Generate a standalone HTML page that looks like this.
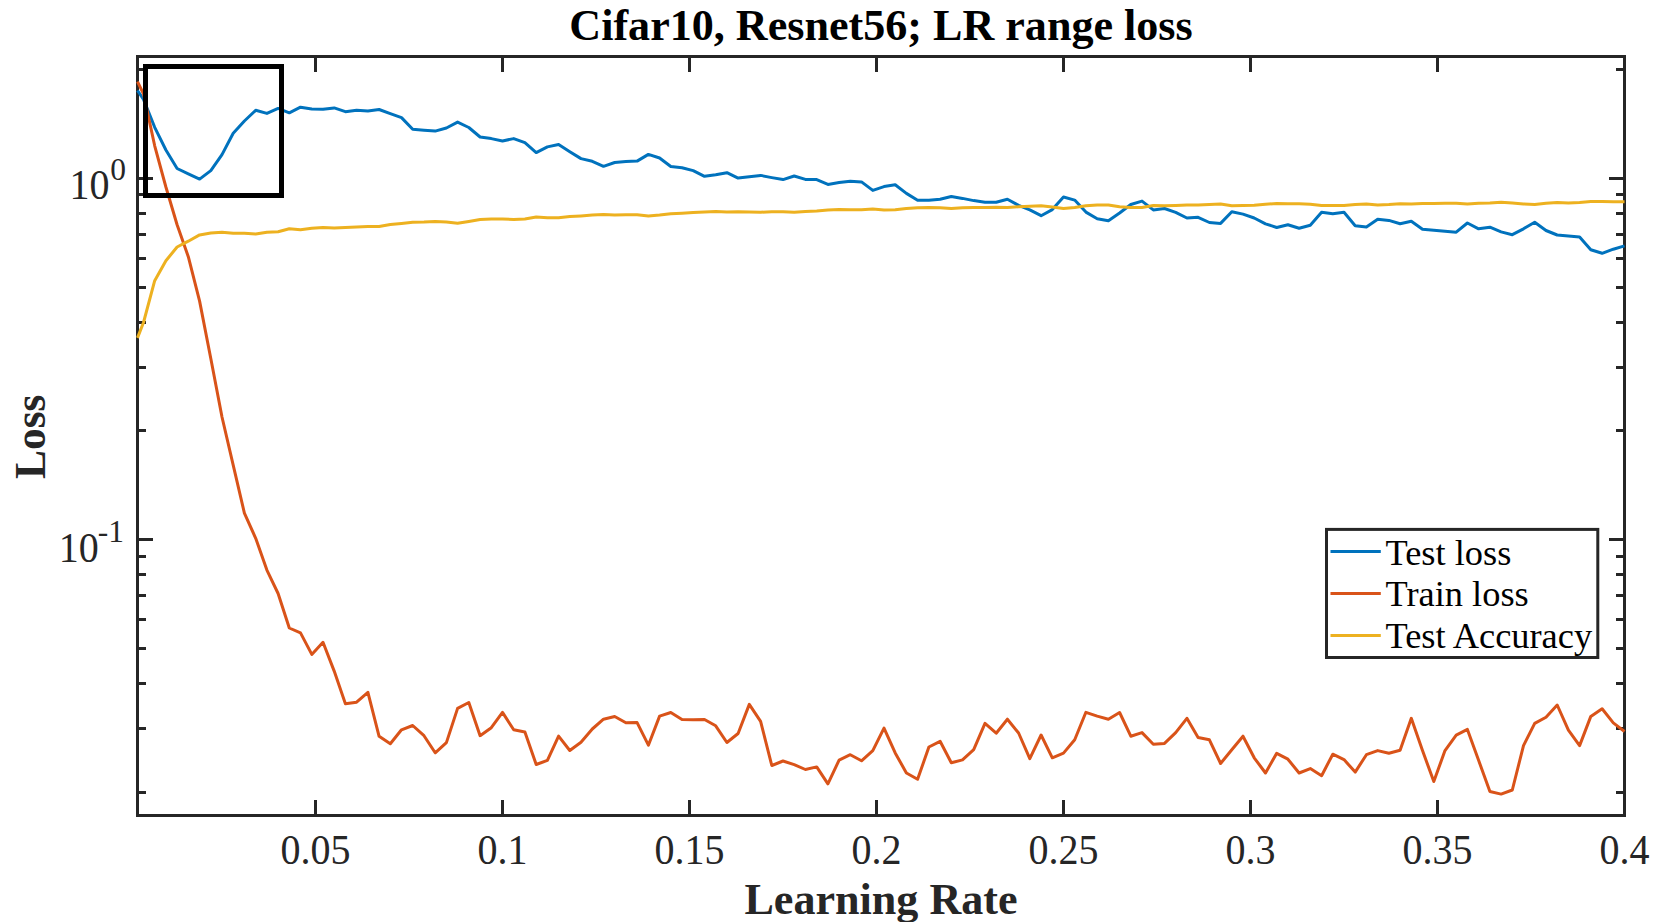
<!DOCTYPE html>
<html><head><meta charset="utf-8"><title>Cifar10, Resnet56; LR range loss</title>
<style>
html,body{margin:0;padding:0;background:#fff;}
body{width:1670px;height:922px;overflow:hidden;}
svg{display:block;}
text{font-family:"Liberation Serif","Times New Roman",Times,serif;}
.tk{font-size:40px;fill:#262626;}
.b{font-weight:bold;font-size:44.1px;}
.lg{font-size:36.4px;fill:#000;}
</style></head><body>
<svg width="1670" height="922" viewBox="0 0 1670 922">
<rect x="0" y="0" width="1670" height="922" fill="#fff"/>
<g stroke="#262626" stroke-width="3" fill="none">
<line x1="315.5" y1="815.5" x2="315.5" y2="800.0"/>
<line x1="315.5" y1="56.5" x2="315.5" y2="72.0"/>
<line x1="502.5" y1="815.5" x2="502.5" y2="800.0"/>
<line x1="502.5" y1="56.5" x2="502.5" y2="72.0"/>
<line x1="689.5" y1="815.5" x2="689.5" y2="800.0"/>
<line x1="689.5" y1="56.5" x2="689.5" y2="72.0"/>
<line x1="876.5" y1="815.5" x2="876.5" y2="800.0"/>
<line x1="876.5" y1="56.5" x2="876.5" y2="72.0"/>
<line x1="1063.5" y1="815.5" x2="1063.5" y2="800.0"/>
<line x1="1063.5" y1="56.5" x2="1063.5" y2="72.0"/>
<line x1="1250.5" y1="815.5" x2="1250.5" y2="800.0"/>
<line x1="1250.5" y1="56.5" x2="1250.5" y2="72.0"/>
<line x1="1437.5" y1="815.5" x2="1437.5" y2="800.0"/>
<line x1="1437.5" y1="56.5" x2="1437.5" y2="72.0"/>
<line x1="137.5" y1="178.5" x2="153.0" y2="178.5"/>
<line x1="1624.5" y1="178.5" x2="1609.0" y2="178.5"/>
<line x1="137.5" y1="539.5" x2="153.0" y2="539.5"/>
<line x1="1624.5" y1="539.5" x2="1609.0" y2="539.5"/>
<line x1="137.5" y1="69.5" x2="146.0" y2="69.5"/>
<line x1="1624.5" y1="69.5" x2="1616.0" y2="69.5"/>
<line x1="137.5" y1="194.5" x2="146.0" y2="194.5"/>
<line x1="1624.5" y1="194.5" x2="1616.0" y2="194.5"/>
<line x1="137.5" y1="213.5" x2="146.0" y2="213.5"/>
<line x1="1624.5" y1="213.5" x2="1616.0" y2="213.5"/>
<line x1="137.5" y1="234.5" x2="146.0" y2="234.5"/>
<line x1="1624.5" y1="234.5" x2="1616.0" y2="234.5"/>
<line x1="137.5" y1="258.5" x2="146.0" y2="258.5"/>
<line x1="1624.5" y1="258.5" x2="1616.0" y2="258.5"/>
<line x1="137.5" y1="287.5" x2="146.0" y2="287.5"/>
<line x1="1624.5" y1="287.5" x2="1616.0" y2="287.5"/>
<line x1="137.5" y1="322.5" x2="146.0" y2="322.5"/>
<line x1="1624.5" y1="322.5" x2="1616.0" y2="322.5"/>
<line x1="137.5" y1="367.5" x2="146.0" y2="367.5"/>
<line x1="1624.5" y1="367.5" x2="1616.0" y2="367.5"/>
<line x1="137.5" y1="430.5" x2="146.0" y2="430.5"/>
<line x1="1624.5" y1="430.5" x2="1616.0" y2="430.5"/>
<line x1="137.5" y1="556.5" x2="146.0" y2="556.5"/>
<line x1="1624.5" y1="556.5" x2="1616.0" y2="556.5"/>
<line x1="137.5" y1="574.5" x2="146.0" y2="574.5"/>
<line x1="1624.5" y1="574.5" x2="1616.0" y2="574.5"/>
<line x1="137.5" y1="595.5" x2="146.0" y2="595.5"/>
<line x1="1624.5" y1="595.5" x2="1616.0" y2="595.5"/>
<line x1="137.5" y1="619.5" x2="146.0" y2="619.5"/>
<line x1="1624.5" y1="619.5" x2="1616.0" y2="619.5"/>
<line x1="137.5" y1="648.5" x2="146.0" y2="648.5"/>
<line x1="1624.5" y1="648.5" x2="1616.0" y2="648.5"/>
<line x1="137.5" y1="683.5" x2="146.0" y2="683.5"/>
<line x1="1624.5" y1="683.5" x2="1616.0" y2="683.5"/>
<line x1="137.5" y1="728.5" x2="146.0" y2="728.5"/>
<line x1="1624.5" y1="728.5" x2="1616.0" y2="728.5"/>
<line x1="137.5" y1="792.5" x2="146.0" y2="792.5"/>
<line x1="1624.5" y1="792.5" x2="1616.0" y2="792.5"/>
<rect x="137.5" y="56.5" width="1487.0" height="759.0"/>
</g>
<g fill="none" stroke-width="3" stroke-linejoin="round" stroke-linecap="butt">
<polyline stroke="#0072BD" points="137.5,90.5 143.5,99.4 154.7,127.3 165.9,150.0 177.1,168.5 188.3,173.9 199.6,179.1 210.8,170.6 222.0,154.6 233.2,133.3 244.4,121.0 255.7,110.3 266.9,113.4 278.1,108.4 289.3,112.8 300.5,107.2 311.8,109.0 323.0,109.3 334.2,107.9 345.4,111.7 356.6,110.2 367.9,111.1 379.1,109.5 390.3,113.6 401.5,117.6 412.7,129.3 424.0,130.2 435.2,131.1 446.4,128.0 457.6,122.1 468.8,127.5 480.1,137.0 491.3,138.6 502.5,141.0 513.7,138.6 524.9,142.7 536.2,152.6 547.4,146.9 558.6,144.5 569.8,151.7 581.0,158.6 592.3,161.3 603.5,166.3 614.7,162.5 625.9,161.6 637.1,161.1 648.4,154.4 659.6,158.0 670.8,166.5 682.0,167.7 693.2,170.6 704.5,176.3 715.7,174.8 726.9,172.7 738.1,178.1 749.3,176.7 760.6,175.4 771.8,177.6 783.0,179.6 794.2,176.0 805.4,179.4 816.7,179.6 827.9,184.4 839.1,182.6 850.3,181.2 861.5,181.9 872.8,190.4 884.0,186.6 895.2,184.8 906.4,193.4 917.6,200.2 928.9,200.2 940.1,199.3 951.3,196.5 962.5,198.4 973.7,200.6 985.0,202.2 996.2,202.2 1007.4,199.2 1018.6,205.4 1029.8,209.9 1041.1,215.7 1052.3,209.6 1063.5,197.0 1074.7,200.1 1085.9,212.1 1097.2,218.7 1108.4,220.7 1119.6,213.0 1130.8,204.5 1142.0,201.1 1153.3,209.9 1164.5,208.5 1175.7,212.3 1186.9,218.0 1198.1,217.3 1209.4,222.5 1220.6,223.4 1231.8,211.7 1243.0,214.1 1254.2,218.0 1265.5,223.8 1276.7,227.5 1287.9,224.8 1299.1,228.3 1310.3,225.2 1321.6,212.3 1332.8,213.7 1344.0,212.3 1355.2,225.7 1366.4,227.0 1377.7,219.3 1388.9,220.4 1400.1,223.8 1411.3,221.3 1422.5,229.3 1433.8,230.2 1445.0,231.3 1456.2,232.2 1467.4,223.0 1478.6,228.8 1489.9,227.2 1501.1,231.9 1512.3,234.7 1523.5,228.8 1534.7,222.3 1546.0,230.5 1557.2,235.0 1568.4,236.0 1579.6,236.9 1590.8,249.8 1602.1,253.3 1613.3,249.2 1624.5,245.9"/>
<polyline stroke="#D95319" points="137.5,81.7 143.5,93.9 154.7,145.8 165.9,187.0 177.1,224.8 188.3,256.7 199.6,301.1 210.8,358.5 222.0,417.0 233.2,465.2 244.4,513.1 255.7,538.3 266.9,570.1 278.1,593.5 289.3,628.0 300.5,632.9 311.8,654.4 323.0,642.3 334.2,671.1 345.4,703.8 356.6,702.2 367.9,692.3 379.1,736.3 390.3,743.8 401.5,729.8 412.7,725.5 424.0,735.7 435.2,752.8 446.4,742.6 457.6,708.4 468.8,702.5 480.1,735.7 491.3,727.7 502.5,712.4 513.7,729.8 524.9,732.0 536.2,764.5 547.4,760.4 558.6,736.1 569.8,750.5 581.0,742.2 592.3,729.0 603.5,719.2 614.7,716.5 625.9,722.7 637.1,722.6 648.4,745.2 659.6,716.1 670.8,712.5 682.0,719.5 693.2,719.7 704.5,719.5 715.7,725.8 726.9,742.5 738.1,733.5 749.3,704.4 760.6,721.3 771.8,765.5 783.0,761.0 794.2,764.6 805.4,769.5 816.7,766.9 827.9,783.8 839.1,760.1 850.3,754.7 861.5,760.8 872.8,750.6 884.0,728.1 895.2,752.9 906.4,773.0 917.6,779.3 928.9,747.0 940.1,741.3 951.3,762.8 962.5,759.9 973.7,749.7 985.0,723.3 996.2,733.2 1007.4,719.2 1018.6,733.0 1029.8,758.7 1041.1,735.0 1052.3,757.8 1063.5,753.1 1074.7,739.8 1085.9,712.3 1097.2,716.1 1108.4,719.2 1119.6,712.5 1130.8,736.2 1142.0,732.6 1153.3,744.3 1164.5,743.4 1175.7,732.6 1186.9,718.3 1198.1,737.5 1209.4,739.8 1220.6,763.5 1231.8,749.7 1243.0,736.2 1254.2,757.8 1265.5,773.0 1276.7,753.3 1287.9,759.2 1299.1,773.0 1310.3,768.6 1321.6,775.7 1332.8,754.2 1344.0,759.6 1355.2,772.1 1366.4,754.7 1377.7,750.6 1388.9,753.3 1400.1,750.3 1411.3,718.3 1422.5,750.6 1433.8,781.5 1445.0,750.6 1456.2,735.1 1467.4,729.4 1478.6,760.3 1489.9,791.5 1501.1,794.1 1512.3,790.0 1523.5,745.6 1534.7,723.4 1546.0,717.2 1557.2,705.0 1568.4,730.2 1579.6,745.6 1590.8,716.4 1602.1,708.7 1613.3,722.9 1624.5,731.5"/>
<polyline stroke="#EDB120" points="137.5,337.9 143.5,322.5 154.7,280.7 165.9,260.7 177.1,247.0 188.3,241.2 199.6,234.9 210.8,233.1 222.0,232.2 233.2,233.3 244.4,233.3 255.7,234.0 266.9,232.2 278.1,231.7 289.3,228.8 300.5,229.7 311.8,228.3 323.0,227.5 334.2,228.1 345.4,227.4 356.6,227.0 367.9,226.6 379.1,226.5 390.3,224.5 401.5,223.4 412.7,222.3 424.0,222.0 435.2,221.4 446.4,222.0 457.6,223.2 468.8,221.4 480.1,219.5 491.3,219.1 502.5,218.9 513.7,219.5 524.9,218.9 536.2,216.9 547.4,217.7 558.6,217.7 569.8,216.6 581.0,215.9 592.3,215.0 603.5,214.4 614.7,215.0 625.9,214.8 637.1,214.8 648.4,215.9 659.6,215.1 670.8,213.7 682.0,213.2 693.2,212.6 704.5,211.9 715.7,211.6 726.9,212.1 738.1,211.7 749.3,211.9 760.6,212.3 771.8,211.7 783.0,211.7 794.2,212.3 805.4,211.4 816.7,211.0 827.9,210.1 839.1,209.6 850.3,209.8 861.5,209.8 872.8,209.0 884.0,209.9 895.2,209.8 906.4,208.5 917.6,207.8 928.9,207.6 940.1,207.8 951.3,208.5 962.5,207.8 973.7,207.6 985.0,207.4 996.2,207.2 1007.4,207.6 1018.6,206.7 1029.8,206.2 1041.1,205.8 1052.3,206.9 1063.5,208.5 1074.7,207.6 1085.9,205.8 1097.2,204.9 1108.4,204.9 1119.6,206.7 1130.8,207.6 1142.0,207.4 1153.3,205.6 1164.5,205.8 1175.7,205.4 1186.9,205.1 1198.1,205.1 1209.4,204.5 1220.6,204.0 1231.8,205.8 1243.0,205.6 1254.2,205.3 1265.5,204.2 1276.7,203.6 1287.9,203.8 1299.1,203.8 1310.3,204.2 1321.6,205.4 1332.8,205.4 1344.0,205.4 1355.2,204.4 1366.4,204.0 1377.7,204.9 1388.9,204.5 1400.1,203.8 1411.3,204.0 1422.5,203.6 1433.8,203.5 1445.0,203.3 1456.2,203.3 1467.4,204.0 1478.6,203.3 1489.9,202.9 1501.1,202.2 1512.3,203.1 1523.5,204.0 1534.7,204.5 1546.0,203.2 1557.2,202.6 1568.4,202.9 1579.6,202.6 1590.8,201.6 1602.1,201.6 1613.3,201.7 1624.5,201.7"/>
</g>
<rect x="145.5" y="66.5" width="136" height="129" fill="none" stroke="#000" stroke-width="5"/>
<g class="tk">
<text transform="translate(315.5,864.3) scale(1,1.03)" text-anchor="middle">0.05</text>
<text transform="translate(502.5,864.3) scale(1,1.03)" text-anchor="middle">0.1</text>
<text transform="translate(689.5,864.3) scale(1,1.03)" text-anchor="middle">0.15</text>
<text transform="translate(876.5,864.3) scale(1,1.03)" text-anchor="middle">0.2</text>
<text transform="translate(1063.5,864.3) scale(1,1.03)" text-anchor="middle">0.25</text>
<text transform="translate(1250.5,864.3) scale(1,1.03)" text-anchor="middle">0.3</text>
<text transform="translate(1437.5,864.3) scale(1,1.03)" text-anchor="middle">0.35</text>
<text transform="translate(1624.5,864.3) scale(1,1.03)" text-anchor="middle">0.4</text>
<text transform="translate(109.5,199) scale(1,1.03)" text-anchor="end">10</text><text transform="translate(126,180.3) scale(1,1.03)" text-anchor="end" style="font-size:31.5px">0</text>
<text transform="translate(98.8,561.5) scale(1,1.03)" text-anchor="end">10</text><text transform="translate(124,542) scale(1,1.03)" text-anchor="end" style="font-size:31.5px">-1</text>
</g>
<text class="b" x="881" y="40.2" text-anchor="middle" fill="#000">Cifar10, Resnet56; LR range loss</text>
<text class="b" x="881" y="914.3" text-anchor="middle" fill="#262626">Learning Rate</text>
<text class="b" transform="translate(45.1,436.8) rotate(-90)" text-anchor="middle" fill="#262626" style="font-size:43.5px">Loss</text>
<rect x="1326.5" y="529.4" width="271.3" height="128.1" fill="#fff" stroke="#262626" stroke-width="3"/>
<g stroke-width="3" fill="none">
<line x1="1330.5" y1="551.5" x2="1380.8" y2="551.5" stroke="#0072BD"/>
<line x1="1330.5" y1="593.5" x2="1380.8" y2="593.5" stroke="#D95319"/>
<line x1="1330.5" y1="635.5" x2="1380.8" y2="635.5" stroke="#EDB120"/>
</g>
<g class="lg">
<text x="1385.5" y="564.6">Test loss</text>
<text x="1385.5" y="605.7">Train loss</text>
<text x="1385.5" y="648">Test Accuracy</text>
</g>
</svg>
</body></html>
